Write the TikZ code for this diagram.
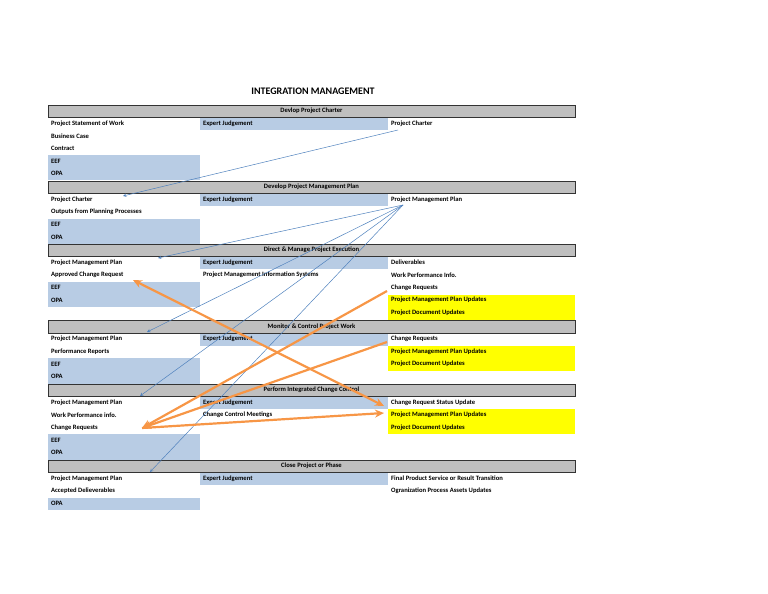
\documentclass[tikz,border=0pt]{standalone}
\usepackage{fontspec}
\setmainfont{Carlito}
\usetikzlibrary{arrows.meta}
\definecolor{bl}{HTML}{B8CCE4}
\definecolor{yl}{HTML}{FFFF00}
\definecolor{hd}{HTML}{BFBFBF}
\definecolor{ar}{HTML}{4F81BD}
\definecolor{or}{HTML}{F79646}
\begin{document}
\begin{tikzpicture}[x=1pt,y=-1pt,
  txt/.style={anchor=west,inner sep=0pt,font=\fontsize{6.6}{7}\selectfont\bfseries},
  hdr/.style={draw=black!80,line width=0.9pt,fill=hd},
  htx/.style={inner sep=0pt,font=\fontsize{6.6}{7}\selectfont\bfseries},
  barr/.style={draw=ar,line width=0.5pt,-stealth},
  oarr/.style={draw=or,line width=2.2pt,-{Stealth[length=9pt,width=8pt]}},
  oarrb/.style={draw=or,line width=2.2pt,{Stealth[length=9pt,width=8pt]}-{Stealth[length=9pt,width=8pt]}}]
\useasboundingbox (0,0) rectangle (768,594);
\node[inner sep=0pt,font=\fontsize{10}{12}\selectfont\bfseries] (title) at (313,91) {INTEGRATION MANAGEMENT};
% blue fills
\fill[bl] (200,117.5) rectangle (388,130);
\fill[bl] (48,155) rectangle (200,180);
\fill[bl] (200,193.5) rectangle (388,206);
\fill[bl] (48,218.5) rectangle (200,243.5);
\fill[bl] (200,256.5) rectangle (388,269);
\fill[bl] (48,281.5) rectangle (200,306.5);
\fill[bl] (200,333) rectangle (388,345.5);
\fill[bl] (48,358) rectangle (200,383.5);
\fill[bl] (200,396.5) rectangle (388,409);
\fill[bl] (48,434) rectangle (200,459.5);
\fill[bl] (200,472.5) rectangle (388,485);
\fill[bl] (48,497.5) rectangle (200,510);
% yellow fills
\fill[yl] (388,294.5) rectangle (575,319.5);
\fill[yl] (388,345.5) rectangle (575,370.5);
\fill[yl] (388,409) rectangle (575,434);
% headers
\draw[hdr] (48,105) rectangle (575,117.5); \node[htx] (h1) at (311.5,111) {Devlop Project Charter};
\draw[hdr] (48,181) rectangle (575,193.5); \node[htx] (h2) at (311.5,187) {Develop Project Management Plan};
\draw[hdr] (48,244) rectangle (575,256.5); \node[htx] (h3) at (311.5,250) {Direct \& Manage Project Execution};
\draw[hdr] (48,320.5) rectangle (575,333); \node[htx] (h4) at (311.5,326.5) {Monitor \& Control Project Work};
\draw[hdr] (48,384) rectangle (575,396.5); \node[htx] (h5) at (311.5,390) {Perform Integrated Change Control};
\draw[hdr] (48,460) rectangle (575,472.5); \node[htx] (h6) at (311.5,466) {Close Project or Phase};
% section 1
\node[txt] (a1) at (51,123.5) {Project Statement of Work};
\node[txt] (a2) at (51,136) {Business Case};
\node[txt] (a3) at (51,148.5) {Contract};
\node[txt] (a4) at (51,161) {EEF};
\node[txt] (a5) at (51,173.5) {OPA};
\node[txt] (b1) at (203,123.5) {Expert Judgement};
\node[txt] (c1) at (391,123.5) {Project Charter};
% section 2
\node[txt] (d1) at (51,199.5) {Project Charter};
\node[txt] (d2) at (51,212) {Outputs from Planning Processes};
\node[txt] (d3) at (51,224.5) {EEF};
\node[txt] (d4) at (51,237) {OPA};
\node[txt] (e1) at (203,199.5) {Expert Judgement};
\node[txt] (f1) at (391,199.5) {Project Management Plan};
% section 3
\node[txt] (g1) at (51,262.5) {Project Management Plan};
\node[txt] (g2) at (51,275) {Approved Change Request};
\node[txt] (g3) at (51,287.5) {EEF};
\node[txt] (g4) at (51,300) {OPA};
\node[txt] (h1a) at (203,262.5) {Expert Judgement};
\node[txt] (h2a) at (203,275) {Project Management Information Systems};
\node[txt] (i1) at (391,262.5) {Deliverables};
\node[txt] (i2) at (391,275) {Work Performance Info.};
\node[txt] (i3) at (391,287.5) {Change Requests};
\node[txt] (i4) at (391,300) {Project Management Plan Updates};
\node[txt] (i5) at (391,312.5) {Project Document Updates};
% section 4
\node[txt] (j1) at (51,339) {Project Management Plan};
\node[txt] (j2) at (51,351.5) {Performance Reports};
\node[txt] (j3) at (51,364) {EEF};
\node[txt] (j4) at (51,376.5) {OPA};
\node[txt] (k1) at (203,339) {Expert Judgement};
\node[txt] (l1) at (391,339) {Change Requests};
\node[txt] (l2) at (391,351.5) {Project Management Plan Updates};
\node[txt] (l3) at (391,364) {Project Document Updates};
% section 5
\node[txt] (m1) at (51,402.5) {Project Management Plan};
\node[txt] (m2) at (51,415) {Work Performance info.};
\node[txt] (m3) at (51,427.5) {Change Requests};
\node[txt] (m4) at (51,440) {EEF};
\node[txt] (m5) at (51,452.5) {OPA};
\node[txt] (n1) at (203,402.5) {Expert Judgement};
\node[txt] (n2) at (203,415) {Change Control Meetings};
\node[txt] (o1) at (391,402.5) {Change Request Status Update};
\node[txt] (o2) at (391,415) {Project Management Plan Updates};
\node[txt] (o3) at (391,427.5) {Project Document Updates};
% section 6
\node[txt] (p1) at (51,478.5) {Project Management Plan};
\node[txt] (p2) at (51,491) {Accepted Delieverables};
\node[txt] (p3) at (51,503.5) {OPA};
\node[txt] (q1) at (203,478.5) {Expert Judgement};
\node[txt] (r1) at (391,478.5) {Final Product Service or Result Transition};
\node[txt] (r2) at (391,491) {Ogranization Process Assets Updates};
% connector ends
\coordinate (cs) at (398,130);
\coordinate (ps) at (403,205);
\coordinate (t1) at (123,196);
\coordinate (t2) at (158,258);
\coordinate (t3) at (147,332);
\coordinate (t4) at (140,396);
\coordinate (t5) at (150,472);
\draw[barr] (cs) -- (t1);
\draw[barr] (ps) -- (t2);
\draw[barr] (ps) -- (t3);
\draw[barr] (ps) -- (t4);
\draw[barr] (ps) -- (t5);
% orange
\coordinate (x1) at (387,291);
\coordinate (x2) at (387,342);
\coordinate (xc) at (142,428);
\coordinate (xd) at (384,413);
\coordinate (xe) at (384,406);
\coordinate (xf) at (133,280);
\draw[oarr] (x1) -- (xc);
\draw[oarr] (x2) -- (xc);
\draw[oarr] (xc) -- (xd);
\draw[oarrb] (xf) -- (xe);
\end{tikzpicture}
\end{document}
